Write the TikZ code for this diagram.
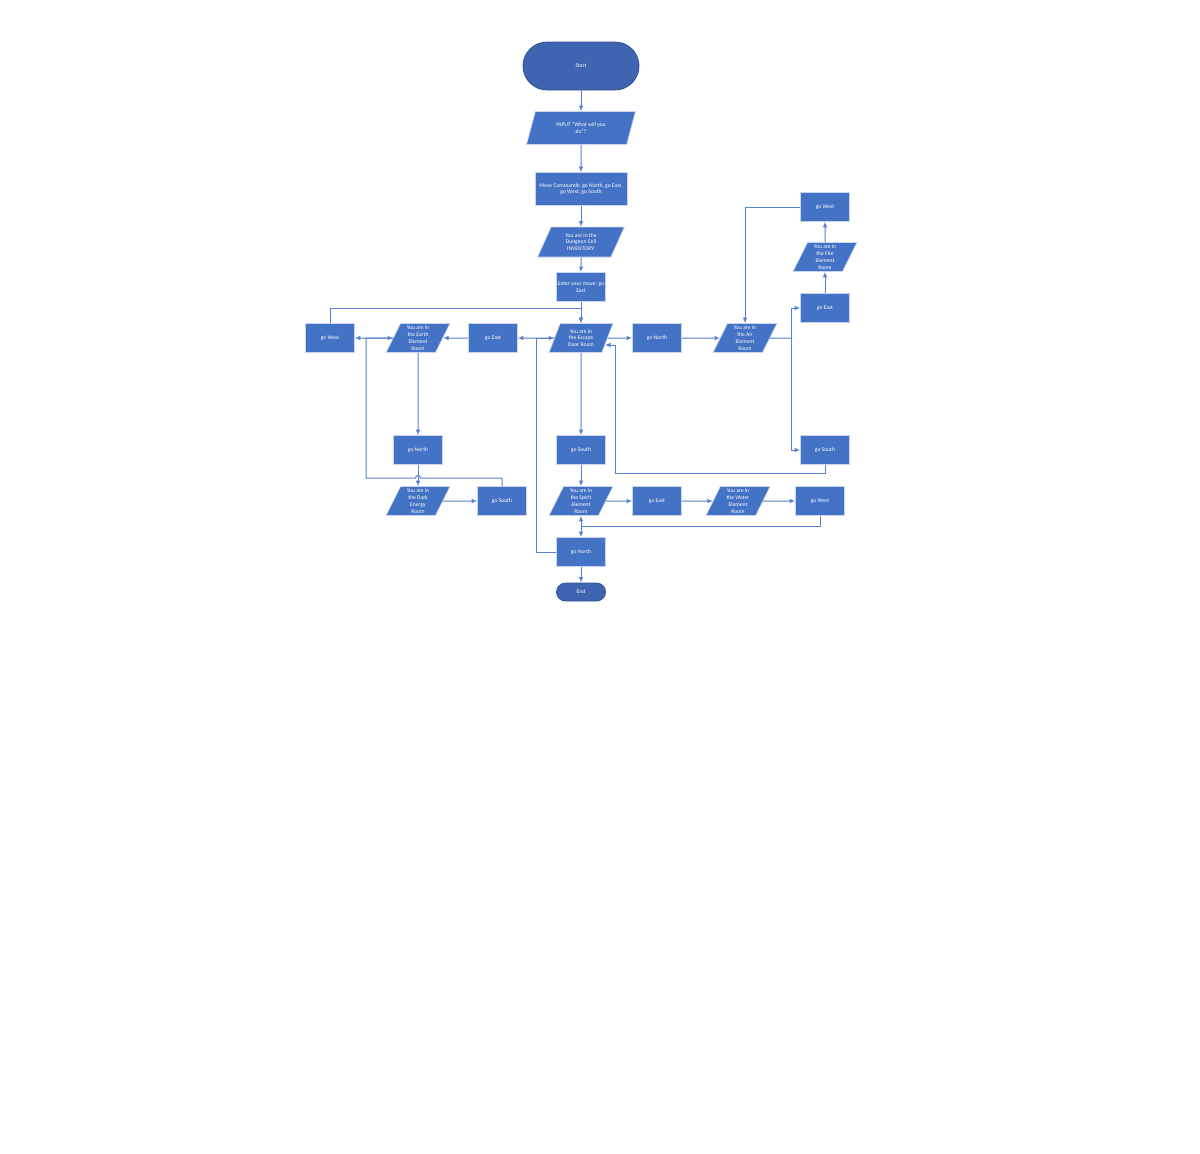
\documentclass[tikz,border=0pt]{standalone}
\usepackage{fontspec}
\setmainfont{Carlito}
\usetikzlibrary{shapes.geometric, arrows.meta}
\definecolor{boxblue}{HTML}{4472C4}
\definecolor{termblue}{HTML}{3F65B0}
\definecolor{termedge}{HTML}{2F528F}
\definecolor{lineblue}{HTML}{5580CE}
\begin{document}
\begin{tikzpicture}[x=1pt, y=-1pt, >={Latex[length=5.5pt,width=4.5pt]},
    every node/.style={font=\fontsize{5.6}{6.8}\selectfont, text=white, align=center, inner sep=1pt},
    movebox/.style={rectangle, draw=white!70!boxblue, line width=0.6pt, fill=boxblue,
        minimum width=49pt, minimum height=29pt},
    roombox/.style={trapezium, trapezium left angle=69, trapezium right angle=111,
        trapezium stretches=true, draw=white!70!boxblue, line width=0.6pt, fill=boxblue,
        minimum width=64pt, minimum height=29pt},
    termbox/.style={rectangle, rounded corners=#1, draw=termedge, line width=0.8pt, fill=termblue},
    link/.style={draw=lineblue, line width=1pt}]
    \useasboundingbox (0,0) rectangle (1200,1154);
    % main column
    \node[termbox=24pt, minimum width=116pt, minimum height=48pt] (start) at (581,66) {Start};
    \node[roombox, minimum width=109pt, minimum height=33pt] (input) at (581,128) {INPUT “What will you\\do”?};
    \node[movebox, minimum width=92pt, minimum height=33pt] (cmds) at (581,189) {Move Commands: go North, go East,\\go West, go South};
    \node[roombox, minimum width=87pt, minimum height=30pt] (cell) at (581,242) {You are in the\\Dungeon Cell\\INVENTORY:};
    \node[movebox] (enter) at (581,287) {Enter your move: go\\East};
    \node[roombox] (escape) at (581,338) {You are in\\the Escape\\Door Room};
    % west side
    \node[movebox] (eastA) at (493,338) {go East};
    \node[roombox] (earth) at (418,338) {You are in\\the Earth\\Element\\Room};
    \node[movebox] (westA) at (330,338) {go West};
    \node[movebox] (northA) at (418,450) {go North};
    \node[roombox] (dark) at (418,501) {You are in\\the Dark\\Energy\\Room};
    \node[movebox] (southA) at (502,501) {go South};
    % east side
    \node[movebox] (northB) at (657,338) {go North};
    \node[roombox] (air) at (745,338) {You are in\\the Air\\Element\\Room};
    \node[movebox] (eastB) at (825,308) {go East};
    \node[roombox] (fire) at (825,257) {You are in\\the Fire\\Element\\Room};
    \node[movebox] (westB) at (825,207) {go West};
    \node[movebox] (southB) at (825,450) {go South};
    % south side
    \node[movebox] (southC) at (581,450) {go South};
    \node[roombox] (spirit) at (581,501) {You are in\\the Spirit\\Element\\Room};
    \node[movebox] (eastC) at (657,501) {go East};
    \node[roombox] (water) at (738,501) {You are in\\the Water\\Element\\Room};
    \node[movebox] (westC) at (820,501) {go West};
    \node[movebox] (northC) at (581,552) {go North};
    \node[termbox=9pt, minimum width=49pt, minimum height=18pt] (end) at (581,592) {End};
    % bends
    \coordinate (topW) at (581,308);
    \coordinate (midE) at (536,338);
    \coordinate (midW) at (366,338);
    \coordinate (hopR) at (420.5,478);
    \coordinate (airJ) at (791,338);
    \coordinate (backS) at (615,473);
    \coordinate (escIn) at (605,345);
    \coordinate (spJ) at (581,526);
    % connectors
    \draw[link, ->] (start) -- (input);
    \draw[link, ->] (input) -- (cmds);
    \draw[link, ->] (cmds) -- (cell);
    \draw[link, ->] (cell) -- (enter);
    \draw[link, ->] (enter) -- (escape);
    \draw[link, ->] (escape) -- (eastA);
    \draw[link, ->] (eastA) -- (earth);
    \draw[link, ->] (earth) -- (westA);
    \draw[link, ->] (westA.north) |- (topW) -- (escape);
    \draw[link, ->] (earth) -- (northA);
    \draw[link, ->] (northA) -- (dark);
    \draw[link, ->] (dark) -- (southA);
    \draw[link, ->] (southA.north) |- (hopR) arc (0:-180:2.5) -- (366,478) -- (midW) -- (earth);
    \draw[link, ->] (northC.west) -| (midE) -- (escape);
    \draw[link, ->] (escape) -- (northB);
    \draw[link, ->] (northB) -- (air);
    \draw[link] (air) -- (airJ);
    \draw[link, ->] (airJ) |- (eastB);
    \draw[link, ->] (airJ) |- (southB);
    \draw[link, ->] (eastB) -- (fire);
    \draw[link, ->] (fire) -- (westB);
    \draw[link, ->] (westB.west) -| (air.north);
    \draw[link, ->] (southB.south) |- (backS) |- (escIn);
    \draw[link, ->] (escape) -- (southC);
    \draw[link, ->] (southC) -- (spirit);
    \draw[link, ->] (spirit) -- (eastC);
    \draw[link, ->] (eastC) -- (water);
    \draw[link, ->] (water) -- (westC);
    \draw[link, ->] (westC.south) |- (spJ) -- (spirit);
    \draw[link, ->] (spJ) -- (northC);
    \draw[link, ->] (northC) -- (end);
\end{tikzpicture}
\end{document}
